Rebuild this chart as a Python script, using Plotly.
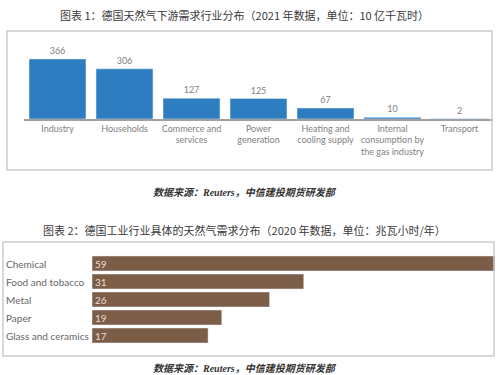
import plotly.graph_objects as go

# Chart 1 data
sectors = ["Industry", "Households", "Commerce and<br>services", "Power<br>generation",
           "Heating and<br>cooling supply", "Internal<br>consumption by<br>the gas industry", "Transport"]
demand_2021 = [366, 306, 127, 125, 67, 10, 2]

# Chart 2 data
industries = ["Chemical", "Food and tobacco", "Metal", "Paper", "Glass and ceramics"]
demand_2020 = [59, 31, 26, 19, 17]

title1 = "图表 1：德国天然气下游需求行业分布（2021 年数据，单位：10 亿千瓦时）"
title2 = "图表 2：德国工业行业具体的天然气需求分布（2020 年数据，单位：兆瓦小时/年）"
source = "数据来源：Reuters，中信建投期货研发部"

W, H = 500, 375
def px(x):
    return x / W
def py(y):
    return 1 - y / H

BLUE = "#2e7dc1"
BROWN = "#7c5d48"
GRAY = "#7f7f7f"
LAT = "Lato, 'Noto Sans', sans-serif"
CJK = "'Noto Sans CJK SC', sans-serif"

fig = go.Figure()
fig.add_trace(go.Bar(
    x=sectors, y=demand_2021, marker_color=BLUE, width=0.85,
    text=[str(v) for v in demand_2021], textposition="outside",
    textfont=dict(family=LAT, size=9, color=GRAY), cliponaxis=False,
    xaxis="x", yaxis="y", showlegend=False,
))
fig.add_trace(go.Bar(
    y=industries, x=demand_2020, orientation="h", marker_color=BROWN, width=0.83,
    text=[str(v) for v in demand_2020], textposition="inside", insidetextanchor="start",
    constraintext="none", textangle=0,
    textfont=dict(family=LAT, size=10, color="#eadfd4"),
    xaxis="x2", yaxis="y2", showlegend=False,
))

# Chart 1: 366 -> 60px
unit1 = 60 / 366
ymax1 = 400
fig.update_layout(
    xaxis=dict(domain=[px(24), px(493)], range=[-0.5, 6.5], showline=True,
               linecolor="#a0a0a0", linewidth=1.5, ticks="", showgrid=False,
               tickfont=dict(family=LAT, size=9, color=GRAY), fixedrange=True),
    yaxis=dict(domain=[py(119), py(119 - ymax1 * unit1)], range=[0, ymax1],
               visible=False, showgrid=False),
    xaxis2=dict(domain=[px(92), px(495)], range=[0, 59], visible=False, showgrid=False),
    yaxis2=dict(domain=[py(344.5), py(254.5)], range=[4.5, -0.5],
                categoryorder="array", categoryarray=industries,
                showticklabels=False, showgrid=False, showline=False, ticks=""),
)

annotations = [
    dict(text=title1, x=px(244), y=py(15), xref="paper", yref="paper", yanchor="middle",
         showarrow=False, font=dict(family=CJK, size=11, color="#3a3a3a")),
    dict(text=title2, x=px(244), y=py(230), xref="paper", yref="paper", yanchor="middle",
         showarrow=False, font=dict(family=CJK, size=11, color="#3a3a3a")),
    dict(text="<b><i>" + source + "</i></b>", x=px(245), y=py(192), xref="paper", yref="paper",
         yanchor="middle",
         showarrow=False, font=dict(family="'Liberation Serif', " + CJK, size=10, color="#333333")),
    dict(text="<b><i>" + source + "</i></b>", x=px(245), y=py(368), xref="paper", yref="paper",
         yanchor="middle",
         showarrow=False, font=dict(family="'Liberation Serif', " + CJK, size=10, color="#333333")),
]
for name in industries:
    annotations.append(dict(text=name, x=px(4), y=name, xref="paper", yref="y2",
                            xanchor="left", yanchor="middle", showarrow=False,
                            font=dict(family=LAT, size=10, color="#666666")))

shapes = [
    dict(type="rect", xref="paper", yref="paper", x0=px(7), x1=px(492), y0=py(170), y1=py(31),
         line=dict(color="#cccccc", width=1.5)),
    dict(type="rect", xref="paper", yref="paper", x0=px(3), x1=px(494), y0=py(356), y1=py(242),
         line=dict(color="#cccccc", width=1.5)),
]

fig.update_layout(
    width=W, height=H, margin=dict(l=0, r=0, t=0, b=0),
    paper_bgcolor="white", plot_bgcolor="white",
    annotations=annotations, shapes=shapes,
)

fig.write_html("out.html")
